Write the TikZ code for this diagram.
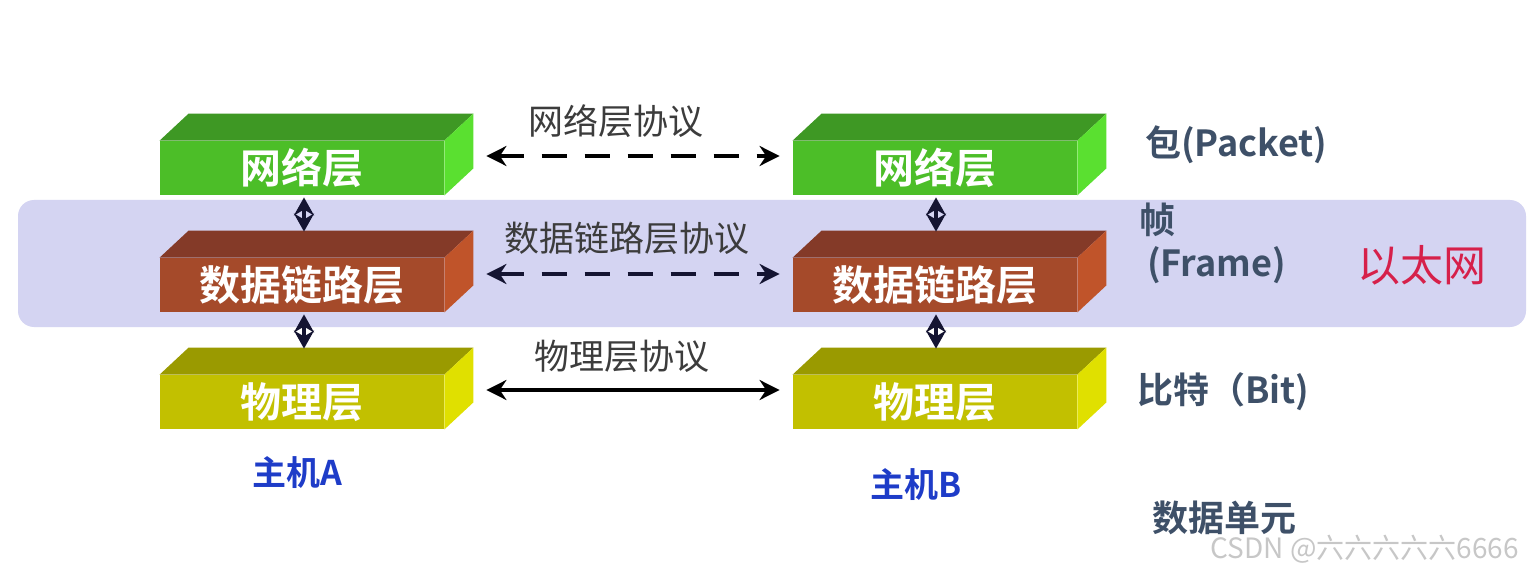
\documentclass[tikz,border=0pt]{standalone}
\usepackage{fontspec}
\setmainfont{Noto Sans CJK SC}
\newfontfamily\cjk{Noto Sans CJK SC}
\newfontfamily\cjkb{Noto Sans CJK SC Bold}
\usetikzlibrary{arrows.meta,calc}
\definecolor{bandc}{RGB}{212,212,242}
\definecolor{netF}{RGB}{76,190,40}
\definecolor{netT}{RGB}{62,152,36}
\definecolor{netS}{RGB}{90,224,48}
\definecolor{dlF}{RGB}{165,74,42}
\definecolor{dlT}{RGB}{132,58,40}
\definecolor{dlS}{RGB}{192,84,42}
\definecolor{phF}{RGB}{194,192,0}
\definecolor{phT}{RGB}{154,154,0}
\definecolor{phS}{RGB}{224,224,0}
\definecolor{slate}{RGB}{62,80,104}
\definecolor{hostblue}{RGB}{30,60,200}
\definecolor{ethred}{RGB}{214,32,74}
\definecolor{navy}{RGB}{20,20,50}
\definecolor{protogray}{RGB}{60,60,60}
\tikzset{
  front/.style={rectangle, inner sep=0pt, minimum width=142pt, minimum height=27pt,
    text=white, font=\cjkb\fontsize{20.5pt}{22pt}\selectfont},
  proto/.style={line width=2.4pt, draw=black, {Stealth[length=10pt,width=10pt]}-{Stealth[length=10pt,width=10pt]}},
  protodash/.style={proto, dash pattern=on 12.5pt off 9pt},
  vert/.style={line width=2pt, draw=navy, {Stealth[length=9pt,width=10pt]}-{Stealth[length=9pt,width=10pt]}},
  protolbl/.style={text=protogray, font=\cjk\fontsize{17.5pt}{19pt}\selectfont},
  unitlbl/.style={text=slate, font=\cjkb\fontsize{18pt}{20pt}\selectfont, anchor=west},
  hostlbl/.style={text=hostblue, font=\cjkb\fontsize{17pt}{19pt}\selectfont},
}
\newcommand{\layerbox}[6]{%
  \node[front, fill=#4] (#1) at #2 {#3};
  \fill[#5] (#1.north west) -- ++(14.5pt,13.5pt) -- ([xshift=14.5pt,yshift=13.5pt]#1.north east) -- (#1.north east) -- cycle;
  \fill[#6] (#1.north east) -- ++(14.5pt,13.5pt) -- ([xshift=14.5pt,yshift=13.5pt]#1.south east) -- (#1.south east) -- cycle;
}
\begin{document}
\begin{tikzpicture}[x=0.5pt,y=-0.5pt]
\useasboundingbox (0,0) rectangle (1528,567);
\fill[white] (0,0) rectangle (1528,567);
% ethernet band
\fill[bandc, rounded corners=8pt] (18,200) rectangle (1526,327);
% host A
\layerbox{netA}{(302,168)}{网络层}{netF}{netT}{netS}
\layerbox{dlA}{(302,285)}{数据链路层}{dlF}{dlT}{dlS}
\layerbox{phA}{(302,402)}{物理层}{phF}{phT}{phS}
% host B
\layerbox{netB}{(935,168)}{网络层}{netF}{netT}{netS}
\layerbox{dlB}{(935,285)}{数据链路层}{dlF}{dlT}{dlS}
\layerbox{phB}{(935,402)}{物理层}{phF}{phT}{phS}
% vertical arrows
\draw[vert] ([xshift=1pt,yshift=-1pt]netA.south) -- ([xshift=1pt,yshift=13pt]dlA.north);
\draw[vert] ([xshift=1pt,yshift=-1pt]dlA.south) -- ([xshift=1pt,yshift=13pt]phA.north);
\draw[vert] ([xshift=0.5pt,yshift=-1pt]netB.south) -- ([xshift=0.5pt,yshift=13pt]dlB.north);
\draw[vert] ([xshift=0.5pt,yshift=-1pt]dlB.south) -- ([xshift=0.5pt,yshift=13pt]phB.north);
% protocol arrows
\draw[protodash] ([xshift=21pt,yshift=6pt]netA.east) -- ([xshift=-6.5pt,yshift=6pt]netB.west);
\draw[protodash, draw=navy] ([xshift=21pt,yshift=5.5pt]dlA.east) -- ([xshift=-6.5pt,yshift=5.5pt]dlB.west);
\draw[proto] ([xshift=21pt,yshift=6pt]phA.east) -- ([xshift=-6.5pt,yshift=6pt]phB.west);
% protocol labels
\node[protolbl] (lnet) at (616,121) {网络层协议};
\node[protolbl] (ldl) at (627,238) {数据链路层协议};
\node[protolbl] (lph) at (622,356) {物理层协议};
% unit labels
\node[unitlbl] (upk) at (1138,145) {包(Packet)};
\node[unitlbl] (ufr1) at (1132,220) {帧};
\node[unitlbl] (ufr2) at (1140,265) {(Frame)};
\node[unitlbl] (ubit) at (1130,392) {比特（Bit)};
\node[unitlbl] (uunit) at (1145,518) {数据单元};
\node[text=ethred, font=\cjk\fontsize{21.5pt}{23pt}\selectfont] (eth) at (1422,265) {以太网};
% hosts
\node[hostlbl] (hA) at (297,473) {主机A};
\node[hostlbl] (hB) at (916,485) {主机B};
% watermark
\node[text=black!22, font=\cjk\fontsize{14pt}{15pt}\selectfont, anchor=east] (wm) at (1526,549) {CSDN @六六六六六6666};
\end{tikzpicture}
\end{document}
